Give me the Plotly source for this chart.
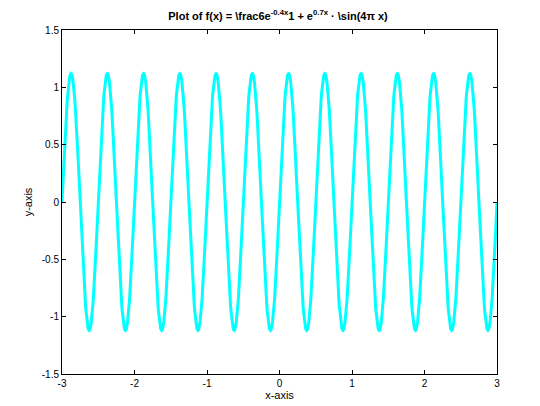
import numpy as np
import plotly.graph_objects as go

# curve as drawn: constant amplitude ~1.12, period 0.5
amplitude = 1.12
x_vals = np.linspace(-3, 3, 1201)
y_vals = amplitude * np.sin(4 * np.pi * x_vals)

x_ticks = [-3, -2, -1, 0, 1, 2, 3]
x_labels = ["-3", "-2", "-1", "0", "1", "2", "3"]
y_ticks = [-1.5, -1, -0.5, 0, 0.5, 1, 1.5]
y_labels = ["-1.5", "-1", "-0.5", "0", "0.5", "1", "1.5"]

fig = go.Figure(go.Scatter(x=x_vals, y=y_vals, mode="lines",
                           line=dict(color="cyan", width=3)))

axis_style = dict(showgrid=False, zeroline=False, showline=True, mirror="ticks",
                  linecolor="black", linewidth=1, ticks="inside", ticklen=4,
                  tickcolor="black", tickfont=dict(size=10, color="black"))

fig.update_layout(
    width=540, height=406,
    margin=dict(l=54, r=51, t=22, b=40),
    paper_bgcolor="white", plot_bgcolor="white",
    font=dict(family="Liberation Sans, Arial, sans-serif", size=10, color="black"),
    showlegend=False,
    title=dict(text="<b>Plot of f(x) = \\frac6e<sup>-0.4x</sup>1 + e<sup>0.7x</sup> · \\sin(4π x)</b>",
               x=0.5, xanchor="center", y=0.99, yanchor="top", font=dict(size=11)),
    xaxis=dict(range=[-3, 3], tickvals=x_ticks, ticktext=x_labels,
               title=dict(text="x-axis", standoff=2, font=dict(size=11)), **axis_style),
    yaxis=dict(range=[-1.5, 1.5], tickvals=y_ticks, ticktext=y_labels,
               title=dict(text="y-axis", standoff=6, font=dict(size=11)), **axis_style),
)

fig.write_html("out.html")
